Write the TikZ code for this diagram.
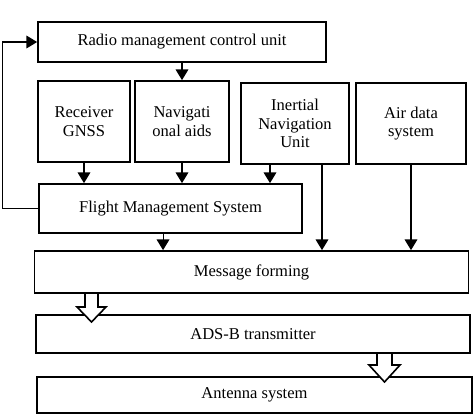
\documentclass[tikz,border=0pt]{standalone}
\usepackage{fontspec}
\setmainfont{Liberation Serif}
\usetikzlibrary{positioning,arrows.meta}

\begin{document}
\begin{tikzpicture}[
    x=0.75pt, y=-0.75pt,
    >={Triangle[length=8pt,width=9.5pt]},
    font=\fontsize{12.4}{14}\selectfont,
    block/.style={draw, line width=1.3pt, align=center, inner sep=0pt},
    link/.style={->, line width=0.8pt},
    hollow/.style={draw, fill=white, line width=1.2pt, line join=miter}
]
\useasboundingbox (0,0) rectangle (474,414);

\node[block, minimum width=216pt, minimum height=30pt] (radio) at (182,42) {Radio management control unit};
\node[block, minimum width=69pt, minimum height=60.75pt] (recv) at (84,121.5) {Receiver\\GNSS};
\node[block, minimum width=70.5pt, minimum height=60.75pt] (navaid) at (182,121.5) {Navigati\\onal aids};
\node[block, minimum width=81pt, minimum height=60.75pt] (ins) at (295,123.5) {Inertial\\Navigation\\Unit};
\node[block, minimum width=82.5pt, minimum height=60.75pt] (adc) at (411,123.5) {Air data\\system};
\node[block, minimum width=197.25pt, minimum height=36.75pt] (fms) at (170.5,208.5) {Flight Management System};
\node[block, minimum width=325.5pt, minimum height=31.5pt] (msg) at (251.5,272) {Message forming};
\node[block, minimum width=325.5pt, minimum height=28.5pt] (adsb) at (253,334) {ADS-B transmitter};
\node[block, minimum width=326.25pt, minimum height=27pt] (ant) at (254.5,395) {Antenna system};

\coordinate (ins1) at ([xshift=-18.75pt]ins.south);
\coordinate (ins2) at ([xshift=20.25pt]ins.south);
\coordinate (fms1) at ([xshift=-5.6pt]fms.south);

\draw[link] (radio.south) -- (navaid.north);
\draw[link] (recv.south) -- (recv.south |- fms.north);
\draw[link] (navaid.south) -- (navaid.south |- fms.north);
\draw[link] (ins1) -- (ins1 |- fms.north);
\draw[link] (ins2) -- (ins2 |- msg.north);
\draw[link] (adc.south) -- (adc.south |- msg.north);
\draw[link] (fms1) -- (fms1 |- msg.north);
\draw[link] (fms.west) -- ++(-36,0) |- (radio.west);

% hollow arrows
\coordinate (h1) at (91.5,294);
\coordinate (h2) at (384.5,354);
\draw[hollow] (h1) ++(-6.5,0) -- ++(0,13) -- ++(-8,0) -- ++(14.5,15) -- ++(14.5,-15) -- ++(-8,0) -- ++(0,-13);
\draw[hollow] (h2) ++(-7.5,0) -- ++(0,11) -- ++(-8,0) -- ++(15.5,17) -- ++(15.5,-17) -- ++(-8,0) -- ++(0,-11);
\end{tikzpicture}
\end{document}
